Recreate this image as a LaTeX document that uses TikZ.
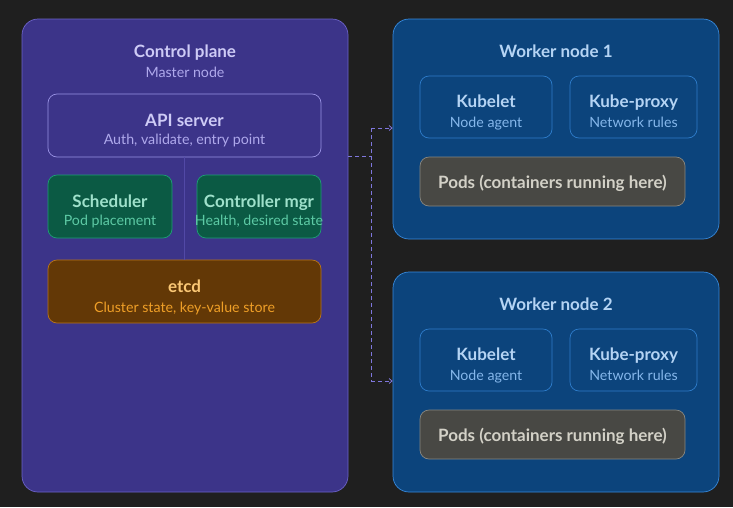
\documentclass[tikz,border=0pt]{standalone}
\usepackage{fontspec}
\setmainfont{Lato}
\usetikzlibrary{arrows.meta}

\definecolor{bgdark}{HTML}{1F1F1F}
\definecolor{cpfill}{HTML}{3C3489}
\definecolor{cpline}{HTML}{6C63C9}
\definecolor{cptitle}{HTML}{CECBF6}
\definecolor{cpsub}{HTML}{AFA9EC}
\definecolor{grfill}{HTML}{0B5A44}
\definecolor{grline}{HTML}{1D9E75}
\definecolor{grtitle}{HTML}{9FE1CB}
\definecolor{grsub}{HTML}{5DCAA5}
\definecolor{amfill}{HTML}{633806}
\definecolor{amline}{HTML}{BA7517}
\definecolor{amtitle}{HTML}{FAC775}
\definecolor{amsub}{HTML}{EF9F27}
\definecolor{wkfill}{HTML}{0C447C}
\definecolor{wkline}{HTML}{378ADD}
\definecolor{wktitle}{HTML}{B5D4F4}
\definecolor{wksub}{HTML}{85B7EB}
\definecolor{pdfill}{HTML}{484844}
\definecolor{pdline}{HTML}{888780}
\definecolor{pdtext}{HTML}{D3D1C7}
\definecolor{link}{HTML}{7F77DD}

\begin{document}
\begin{tikzpicture}[x=1pt,y=-1pt,>={Straight Barb[length=3pt,width=5pt]},
  box/.style={draw,rounded corners=9pt,line width=0.7pt,inner sep=0pt},
  ttl/.style={anchor=base,font=\fontsize{17}{20}\selectfont\bfseries},
  sub/.style={anchor=base,font=\fontsize{14.2}{16}\selectfont}]
 \useasboundingbox (0,0) rectangle (733,507);
 \fill[bgdark] (0,0) rectangle (733,507);
 % ---- control plane
 \node[box,rounded corners=16pt,fill=cpfill,draw=cpline,minimum width=326pt,minimum height=473pt] (cp) at (185,255.5) {};
 \node[ttl,text=cptitle] (cpname) at (185,57) {Control plane};
 \node[sub,text=cpsub] (cpnote) at (185,77) {Master node};
 \node[box,draw=link!80,fill=cpfill,minimum width=273pt,minimum height=63pt] (api) at (184.5,125.5) {};
 \node[ttl,text=cptitle] (apiname) at (184.5,126) {API server};
 \node[sub,text=cpsub] (apinote) at (184.5,144) {Auth, validate, entry point};
 \node[box,draw=amline,fill=amfill,minimum width=273pt,minimum height=63pt] (etcd) at (184.5,291.5) {};
 \draw[cpline!45!cpfill,line width=0.5pt] (api.south) -- (etcd.north);
 \node[ttl,text=amtitle] (etcdname) at (184.5,292) {etcd};
 \node[sub,text=amsub] (etcdnote) at (184.5,312) {Cluster state, key-value store};
 \node[box,draw=grline,fill=grfill,minimum width=124pt,minimum height=63pt] (sched) at (110,206.5) {};
 \node[ttl,text=grtitle] (schedname) at (110,207) {Scheduler};
 \node[sub,text=grsub] (schednote) at (110,225) {Pod placement};
 \node[box,draw=grline,fill=grfill,minimum width=124pt,minimum height=63pt] (ctrl) at (259,206.5) {};
 \node[ttl,text=grtitle] (ctrlname) at (259,207) {Controller mgr};
 \node[sub,text=grsub] (ctrlnote) at (259,225) {Health, desired state};
 % ---- worker nodes
 \foreach \i/\dy in {1/0,2/253}{
  \node[box,rounded corners=16pt,fill=wkfill,draw=wkline,minimum width=326pt,minimum height=220pt] (w\i) at (556,129+\dy) {};
  \node[ttl,text=wktitle] (wname\i) at (556,57+\dy) {Worker node \i};
  \node[box,draw=wkline!80!wkfill,fill=wkfill,minimum width=132pt,minimum height=62pt] (kubelet\i) at (486,107+\dy) {};
  \node[ttl,text=wktitle] at (486,107+\dy) {Kubelet};
  \node[sub,text=wksub] at (486,127+\dy) {Node agent};
  \node[box,draw=wkline!80!wkfill,fill=wkfill,minimum width=127pt,minimum height=62pt] (proxy\i) at (633.5,107+\dy) {};
  \node[ttl,text=wktitle] at (633.5,107+\dy) {Kube-proxy};
  \node[sub,text=wksub] at (633.5,127+\dy) {Network rules};
  \node[box,draw=pdline,fill=pdfill,minimum width=265pt,minimum height=49pt] (pods\i) at (552.5,181.5+\dy) {};
  \node[ttl,text=pdtext] at (552.5,188+\dy) {Pods (containers running here)};
 }
 % ---- links
 \coordinate (split) at (371,156);
 \coordinate (j1) at (371,128);
 \coordinate (j2) at (371,381);
 \begin{scope}[link,line width=0.8pt,dash pattern=on 4pt off 3pt]
  \draw (split -| cp.east) -- (split);
  \draw (j1) -- (j2);
  \draw[->] (j1) -- (j1 -| w1.west);
  \draw[->] (j2) -- (j2 -| w2.west);
 \end{scope}
\end{tikzpicture}
\end{document}
